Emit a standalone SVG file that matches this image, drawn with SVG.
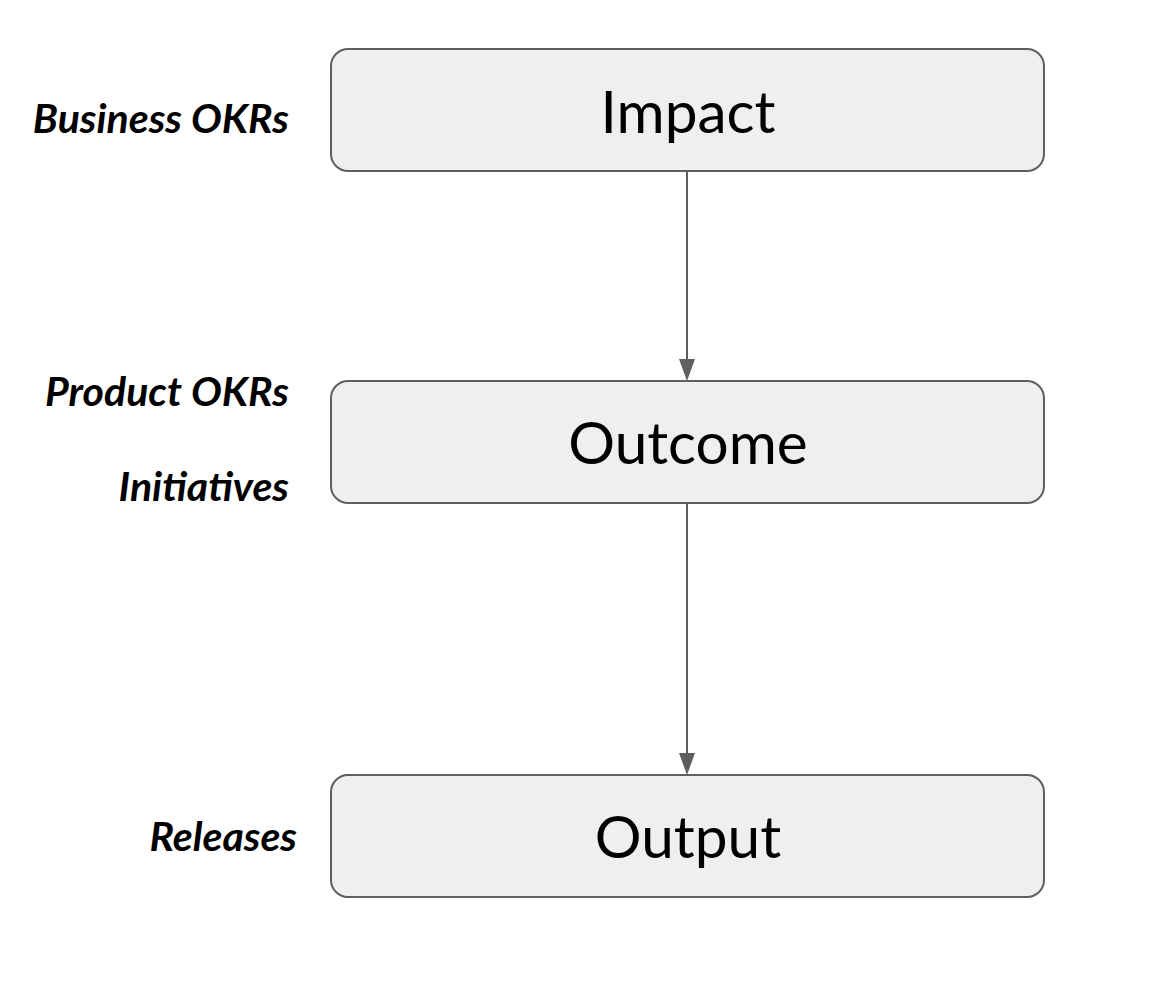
<svg xmlns="http://www.w3.org/2000/svg" width="1150" height="994" viewBox="0 0 1150 994">
<style>
.box{fill:#efefef;stroke:#5f5f5f;stroke-width:2}
.t{font-family:Lato,"Liberation Sans",sans-serif;font-size:58.5px;fill:#000;text-anchor:middle}
.l{font-family:Lato,"Liberation Sans",sans-serif;font-size:41px;font-weight:bold;font-style:italic;fill:#000;text-anchor:end}
.c{stroke:#5f5f5f;stroke-width:2;fill:none}
</style>
<rect width="1150" height="994" fill="#fff"/>
<g id="connectors">
<path class="c" d="M687,172 V360"/>
<path d="M679,359 L695,359 L687,381 Z" fill="#5f5f5f"/>
<path class="c" d="M687,504 V754"/>
<path d="M679,753 L695,753 L687,775 Z" fill="#5f5f5f"/>
</g>
<g id="impact">
<rect class="box" x="331" y="49" width="713" height="122" rx="17"/>
<text class="t" x="688" y="133">Impact</text>
</g>
<g id="outcome">
<rect class="box" x="331" y="381" width="713" height="122" rx="17"/>
<text class="t" x="688" y="464">Outcome</text>
</g>
<g id="output">
<rect class="box" x="331" y="775" width="713" height="122" rx="17"/>
<text class="t" x="688" y="858">Output</text>
</g>
<g id="labels">
<text class="l" x="289" y="133">Business OKRs</text>
<text class="l" x="289" y="406">Product OKRs</text>
<text class="l" x="289" y="501">Initiatives</text>
<text class="l" x="297" y="851">Releases</text>
</g>
</svg>
